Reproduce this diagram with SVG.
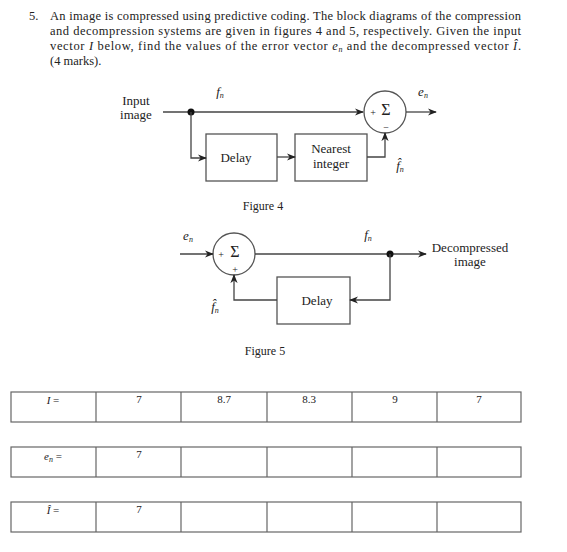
<svg xmlns="http://www.w3.org/2000/svg" width="567" height="552" viewBox="0 0 567 552">
<style>
text{font-family:"Liberation Serif","Times New Roman",serif;fill:#222}
.q{font-size:12.5px}
.lbl{font-size:13px;text-anchor:middle}
.it{font-style:italic}
.fig{font-size:12px;text-anchor:middle}
.cell{font-size:11px;text-anchor:middle}
.ln{fill:none;stroke:#444;stroke-width:1.3}
.box{fill:#fff;stroke:#555;stroke-width:1.3}
.tb{fill:none;stroke:#666;stroke-width:1.2}
.sig{font-size:16px;text-anchor:middle}
.pm{font-size:10px;text-anchor:middle}
</style>
<defs>
<marker id="ar" viewBox="0 0 10 10" refX="9" refY="5" markerWidth="9" markerHeight="9" markerUnits="userSpaceOnUse" orient="auto">
<path d="M0,1 L10,5 L0,9 L3,5 z" fill="#222"/>
</marker>
</defs>
<rect width="567" height="552" fill="#fff"/>
<g id="question">
<text class="q" x="29" y="20">5.</text>
<text class="q" x="50" y="20" textLength="471" lengthAdjust="spacing">An image is compressed using predictive coding. The block diagrams of the compression</text>
<text class="q" x="50" y="35" textLength="471" lengthAdjust="spacing">and decompression systems are given in figures 4 and 5, respectively. Given the input</text>
<text class="q" x="50" y="50" textLength="471" lengthAdjust="spacing">vector <tspan class="it">I</tspan> below, find the values of the error vector  <tspan class="it">e</tspan><tspan class="it" font-size="8" dy="2">n</tspan><tspan dy="-2"> and the decompressed vector </tspan><tspan class="it">Î</tspan>.</text>
<text class="q" x="50" y="65">(4 marks).</text>
</g>
<g id="fig4">
<g id="f4-input"><text class="lbl" x="136" y="105">Input</text><text class="lbl" x="136" y="119">image</text></g>
<g id="f4-delay"><rect class="box" x="206" y="134" width="71" height="47"/><text class="lbl" x="236" y="162">Delay</text></g>
<g id="f4-nearest"><rect class="box" x="295" y="134" width="72" height="47"/><text class="lbl" x="331" y="153">Nearest</text><text class="lbl" x="331" y="168">integer</text></g>
<g id="f4-sum"><circle class="box" cx="385" cy="112" r="21"/><text class="pm" x="373" y="116">+</text><text class="sig" x="386" y="115">Σ</text><text class="pm" x="386" y="131">−</text></g>
<g id="f4-labels">
<text class="lbl it" x="220" y="96">f<tspan font-size="8" dy="2">n</tspan></text>
<text class="lbl it" x="423" y="96">e<tspan font-size="8" dy="2">n</tspan></text>
<text class="lbl it" x="400" y="170">f̂<tspan font-size="8" dy="2">n</tspan></text>
</g>
<g id="f4-connectors">
<line class="ln" x1="163" y1="112" x2="363" y2="112" marker-end="url(#ar)"/>
<circle cx="191" cy="112" r="3.5" fill="#111"/>
<polyline class="ln" points="191,112 191,158 206,158" marker-end="url(#ar)"/>
<line class="ln" x1="277" y1="157" x2="295" y2="157" marker-end="url(#ar)"/>
<polyline class="ln" points="367,157 385,157 385,133" marker-end="url(#ar)"/>
<line class="ln" x1="406" y1="112" x2="436" y2="112" marker-end="url(#ar)"/>
</g>
<text class="fig" x="263" y="210">Figure 4</text>
</g>
<g id="fig5">
<g id="f5-sum"><circle class="box" cx="234" cy="254" r="21"/><text class="pm" x="221" y="258">+</text><text class="sig" x="235" y="257">Σ</text><text class="pm" x="235" y="273">+</text></g>
<g id="f5-delay"><rect class="box" x="277" y="277" width="73" height="47"/><text class="lbl" x="317" y="305">Delay</text></g>
<g id="f5-output"><text class="lbl" x="470" y="252">Decompressed</text><text class="lbl" x="470" y="266">image</text></g>
<g id="f5-labels">
<text class="lbl it" x="188" y="240">e<tspan font-size="8" dy="2">n</tspan></text>
<text class="lbl it" x="368" y="239">f<tspan font-size="8" dy="2">n</tspan></text>
<text class="lbl it" x="215" y="311">f̂<tspan font-size="8" dy="2">n</tspan></text>
</g>
<g id="f5-connectors">
<line class="ln" x1="180" y1="254" x2="213" y2="254" marker-end="url(#ar)"/>
<line class="ln" x1="255" y1="254" x2="426" y2="254" marker-end="url(#ar)"/>
<circle cx="390" cy="254" r="3.5" fill="#111"/>
<polyline class="ln" points="390,254 390,300 350,300" marker-end="url(#ar)"/>
<polyline class="ln" points="277,300 234,300 234,275" marker-end="url(#ar)"/>
</g>
<text class="fig" x="265" y="355">Figure 5</text>
</g>
<g id="tables">
<g id="row-I">
<rect class="tb" x="11" y="392" width="510" height="30"/>
<path class="tb" d="M96,392V422M181,392V422M267,392V422M352,392V422M437,392V422"/>
<text class="cell" x="53" y="404"><tspan class="it">I</tspan> =</text>
<text class="cell" x="139" y="403">7</text>
<text class="cell" x="224" y="403">8.7</text>
<text class="cell" x="309" y="403">8.3</text>
<text class="cell" x="395" y="403">9</text>
<text class="cell" x="479" y="403">7</text>
</g>
<g id="row-e">
<rect class="tb" x="11" y="447" width="510" height="30"/>
<path class="tb" d="M96,447V477M181,447V477M267,447V477M352,447V477M437,447V477"/>
<text class="cell" x="53" y="460"><tspan class="it">e</tspan><tspan class="it" font-size="8" dy="2">n</tspan><tspan dy="-2"> =</tspan></text>
<text class="cell" x="139" y="458">7</text>
</g>
<g id="row-Ihat">
<rect class="tb" x="11" y="502" width="510" height="30"/>
<path class="tb" d="M96,502V532M181,502V532M267,502V532M352,502V532M437,502V532"/>
<text class="cell" x="53" y="514"><tspan class="it">Î</tspan> =</text>
<text class="cell" x="139" y="513">7</text>
</g>
</g>
</svg>
